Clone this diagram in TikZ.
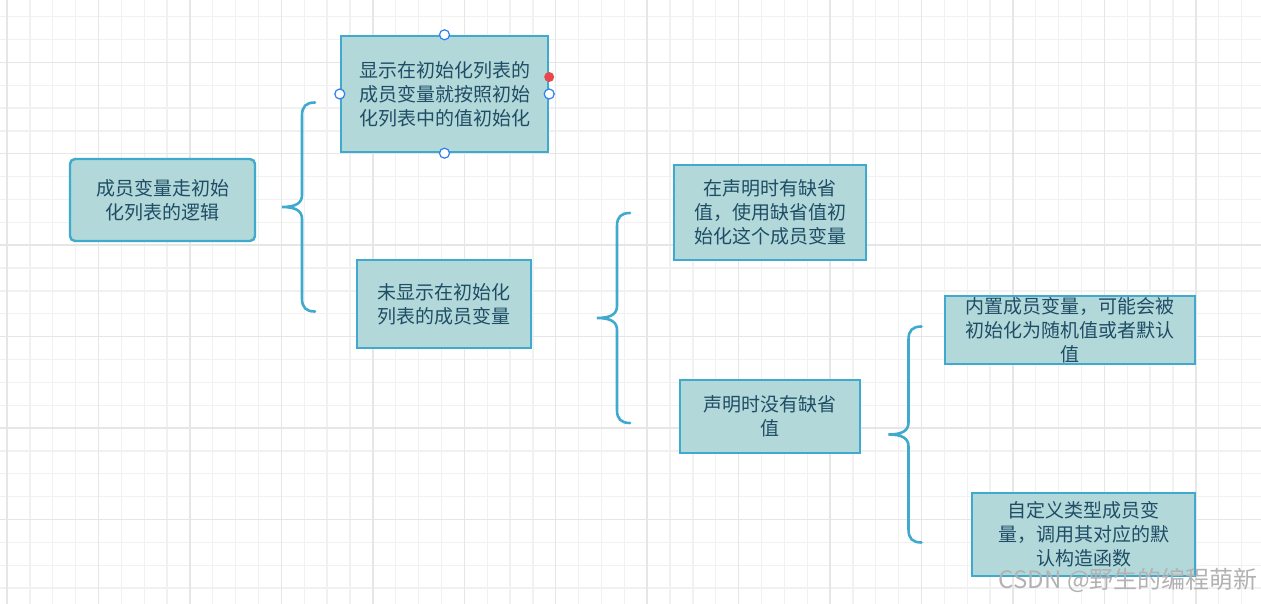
\documentclass[tikz,border=0pt]{standalone}
\usepackage{fontspec}
\setmainfont{Noto Sans CJK SC}
\usetikzlibrary{calc}
\definecolor{BoxFill}{HTML}{B2D8D9}
\definecolor{BoxLine}{HTML}{3FAACD}
\definecolor{BoxText}{HTML}{1F4D66}
\definecolor{GridMinor}{HTML}{F1F1F1}
\definecolor{GridMajor}{HTML}{E6E6E6}
\definecolor{HandleBlue}{HTML}{2F7FF0}
\definecolor{HandleRed}{HTML}{E8474C}

% curly brace, tip at a named coordinate, #2 = half height
\newcommand{\curly}[2]{%
  \begin{scope}[shift={(#1)}]
    \draw[brace] (33,-#2) .. controls (24,-#2) and (20,{-#2+4}) .. (20,{-#2+13})
      -- (20,-12) .. controls (20,-4) and (14,0) .. (0,0)
      .. controls (14,0) and (20,4) .. (20,12)
      -- (20,{#2-13}) .. controls (20,{#2-4}) and (24,#2) .. (33,#2);
  \end{scope}}

\begin{document}
\begin{tikzpicture}[x=1pt, y=-1pt,
    box/.style={draw=BoxLine, line width=2.4pt, fill=BoxFill, text=BoxText,
                align=center, inner sep=0pt, font=\fontsize{19}{24}\selectfont},
    rootbox/.style={box, rounded corners=5pt},
    brace/.style={draw=BoxLine, line width=2.6pt, line cap=round},
    handle/.style={circle, draw=HandleBlue, fill=white, line width=1.2pt,
                   minimum size=10pt, inner sep=0pt},
]
\useasboundingbox[fill=white] (0,0) rectangle (1261,604);

% ============ grid ============
\foreach \i in {0,...,54} \draw[GridMinor, line width=1.3pt] ({7.1+22.86*\i},0) -- ++(0,604);
\foreach \j in {0,...,25} \draw[GridMinor, line width=1.3pt] (0,{16.6+22.86*\j}) -- ++(1261,0);
\foreach \i in {0,...,13} \draw[GridMajor, line width=1.5pt] ({7.1+91.44*\i},0) -- ++(0,604);
\foreach \j in {0,...,5} \draw[GridMajor, line width=1.5pt] (0,{62.3+91.44*\j}) -- ++(1261,0);

% ============ level 1 ============
\node[rootbox, minimum width=185pt, minimum height=82pt] (root) at (162.5,200)
    {成员变量走初始\\化列表的逻辑};

% ============ level 2 ============
\node[box, minimum width=207pt, minimum height=116pt] (shown) at (444.5,94)
    {显示在初始化列表的\\成员变量就按照初始\\化列表中的值初始化};
\node[box, minimum width=174pt, minimum height=88pt] (unshown) at (444,304)
    {未显示在初始化\\列表的成员变量};

% ============ level 3 ============
\node[box, minimum width=192pt, minimum height=95pt] (withdef) at (770,212.5)
    {在声明时有缺省\\值，使用缺省值初\\始化这个成员变量};
\node[box, minimum width=180pt, minimum height=73pt] (nodef) at (770,416.5)
    {声明时没有缺省\\值};

% ============ level 4 ============
\node[box, minimum width=250pt, minimum height=68pt] (builtin) at (1070,330)
    {内置成员变量，可能会被\\初始化为随机值或者默认\\值};
\node[box, minimum width=223pt, minimum height=83pt] (custom) at (1083.5,534.5)
    {自定义类型成员变\\量，调用其对应的默\\认构造函数};

% braces
\coordinate (br1) at (282,207);
\coordinate (br2) at (597,318);
\coordinate (br3) at (888.5,434.5);
\curly{br1}{104.5}
\curly{br2}{105}
\curly{br3}{108}

% selection handles
\node[handle] (hn) at (shown.north) {};
\node[handle] (hs) at (shown.south) {};
\node[handle] (hw) at (shown.west) {};
\node[handle] (he) at (shown.east) {};
\node[handle, draw=none, fill=HandleRed] (hr) at ($(shown.east)+(0,-17)$) {};

% watermark
\node[anchor=east, inner sep=0pt, text=gray!60, font=\fontsize{24}{24}\selectfont] (mark) at (1258,580)
    {CSDN @野生的编程萌新};

\end{tikzpicture}
\end{document}
